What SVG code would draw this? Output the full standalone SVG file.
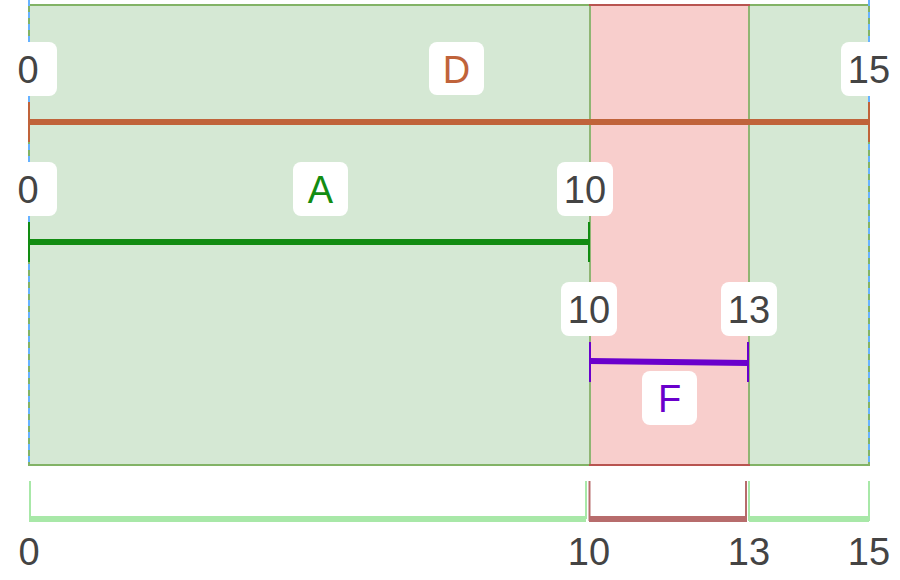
<svg xmlns="http://www.w3.org/2000/svg" width="900" height="580" viewBox="0 0 900 580">
<style>
.t{font-family:"Liberation Sans",Arial,sans-serif;font-size:38px;text-anchor:middle;fill:#444}
.box{fill:#fff}
.g{fill:#d5e8d4;stroke:#82b366;stroke-width:2}
.p{fill:#f8cecc;stroke:#b85450;stroke-width:2}
.gv{stroke:#8fb573;stroke-width:2}
.blue{stroke:#66b2ff;stroke-width:2;stroke-dasharray:6 6;fill:none}
</style>
<rect width="900" height="580" fill="#fff"/>
<g id="regions">
<rect class="g" x="29" y="5" width="561" height="460"/>
<rect class="g" x="749" y="5" width="120" height="460"/>
<rect class="p" x="590" y="5" width="159" height="460"/>
<line class="gv" x1="590" y1="6" x2="590" y2="464"/>
<line class="gv" x1="749" y1="6" x2="749" y2="464"/>
<line class="blue" x1="29" y1="0" x2="29" y2="465"/>
<line class="blue" x1="869" y1="0" x2="869" y2="465"/>
</g>
<g id="connectors">
<g id="D-line" stroke="#c0633a">
<line x1="29" y1="122" x2="869" y2="122" stroke-width="6"/>
<line x1="29" y1="102" x2="29" y2="142" stroke-width="2"/>
<line x1="869" y1="102" x2="869" y2="142" stroke-width="2"/>
</g>
<g id="A-line" stroke="#128c12">
<line x1="29" y1="242" x2="589" y2="242" stroke-width="6"/>
<line x1="29" y1="222" x2="29" y2="262" stroke-width="2"/>
<line x1="589" y1="222" x2="589" y2="262" stroke-width="2"/>
</g>
<g id="F-line" stroke="#6a00cc">
<line x1="590" y1="361" x2="748" y2="363" stroke-width="6"/>
<line x1="590" y1="342" x2="590" y2="382" stroke-width="2"/>
<line x1="748" y1="342" x2="748" y2="382" stroke-width="2"/>
</g>
</g>
<g id="axis">
<g stroke="#a8e8a8">
<line x1="30" y1="481" x2="30" y2="521" stroke-width="2"/>
<line x1="29" y1="519" x2="586" y2="519" stroke-width="6"/>
<line x1="586" y1="481" x2="586" y2="519" stroke-width="2"/>
<line x1="749" y1="481" x2="749" y2="521" stroke-width="2"/>
<line x1="749" y1="519" x2="869" y2="519" stroke-width="6"/>
<line x1="869" y1="481" x2="869" y2="521" stroke-width="2"/>
</g>
<g stroke="#b76c6c">
<line x1="589.5" y1="481" x2="589.5" y2="521" stroke-width="2"/>
<line x1="589" y1="519" x2="747" y2="519" stroke-width="6"/>
<line x1="746" y1="481" x2="746" y2="521" stroke-width="2"/>
</g>
<text class="t" x="29" y="565">0</text>
<text class="t" x="589" y="565">10</text>
<text class="t" x="749" y="565">13</text>
<text class="t" x="869" y="565">15</text>
</g>
<g id="label-D0"><rect class="box" x="0" y="42" width="57" height="54" rx="8"/><text class="t" x="28" y="83">0</text></g>
<g id="label-D"><rect class="box" x="429" y="42" width="55" height="53" rx="8"/><text class="t" x="456.5" y="83" style="fill:#c0633a">D</text></g>
<g id="label-D15"><rect class="box" x="841" y="42" width="56" height="54" rx="8"/><text class="t" x="869" y="83">15</text></g>
<g id="label-A0"><rect class="box" x="0" y="162" width="57" height="54" rx="8"/><text class="t" x="28" y="203">0</text></g>
<g id="label-A"><rect class="box" x="293" y="162" width="55" height="54" rx="8"/><text class="t" x="320.5" y="203" style="fill:#128c12">A</text></g>
<g id="label-A10"><rect class="box" x="557" y="162" width="56" height="54" rx="8"/><text class="t" x="585" y="203">10</text></g>
<g id="label-F10"><rect class="box" x="561" y="282" width="56" height="54" rx="8"/><text class="t" x="589" y="323">10</text></g>
<g id="label-F13"><rect class="box" x="721" y="282" width="56" height="54" rx="8"/><text class="t" x="749" y="323">13</text></g>
<g id="label-F"><rect class="box" x="642" y="371" width="55" height="54" rx="8"/><text class="t" x="669.5" y="412" style="fill:#6a00cc">F</text></g>
</svg>
